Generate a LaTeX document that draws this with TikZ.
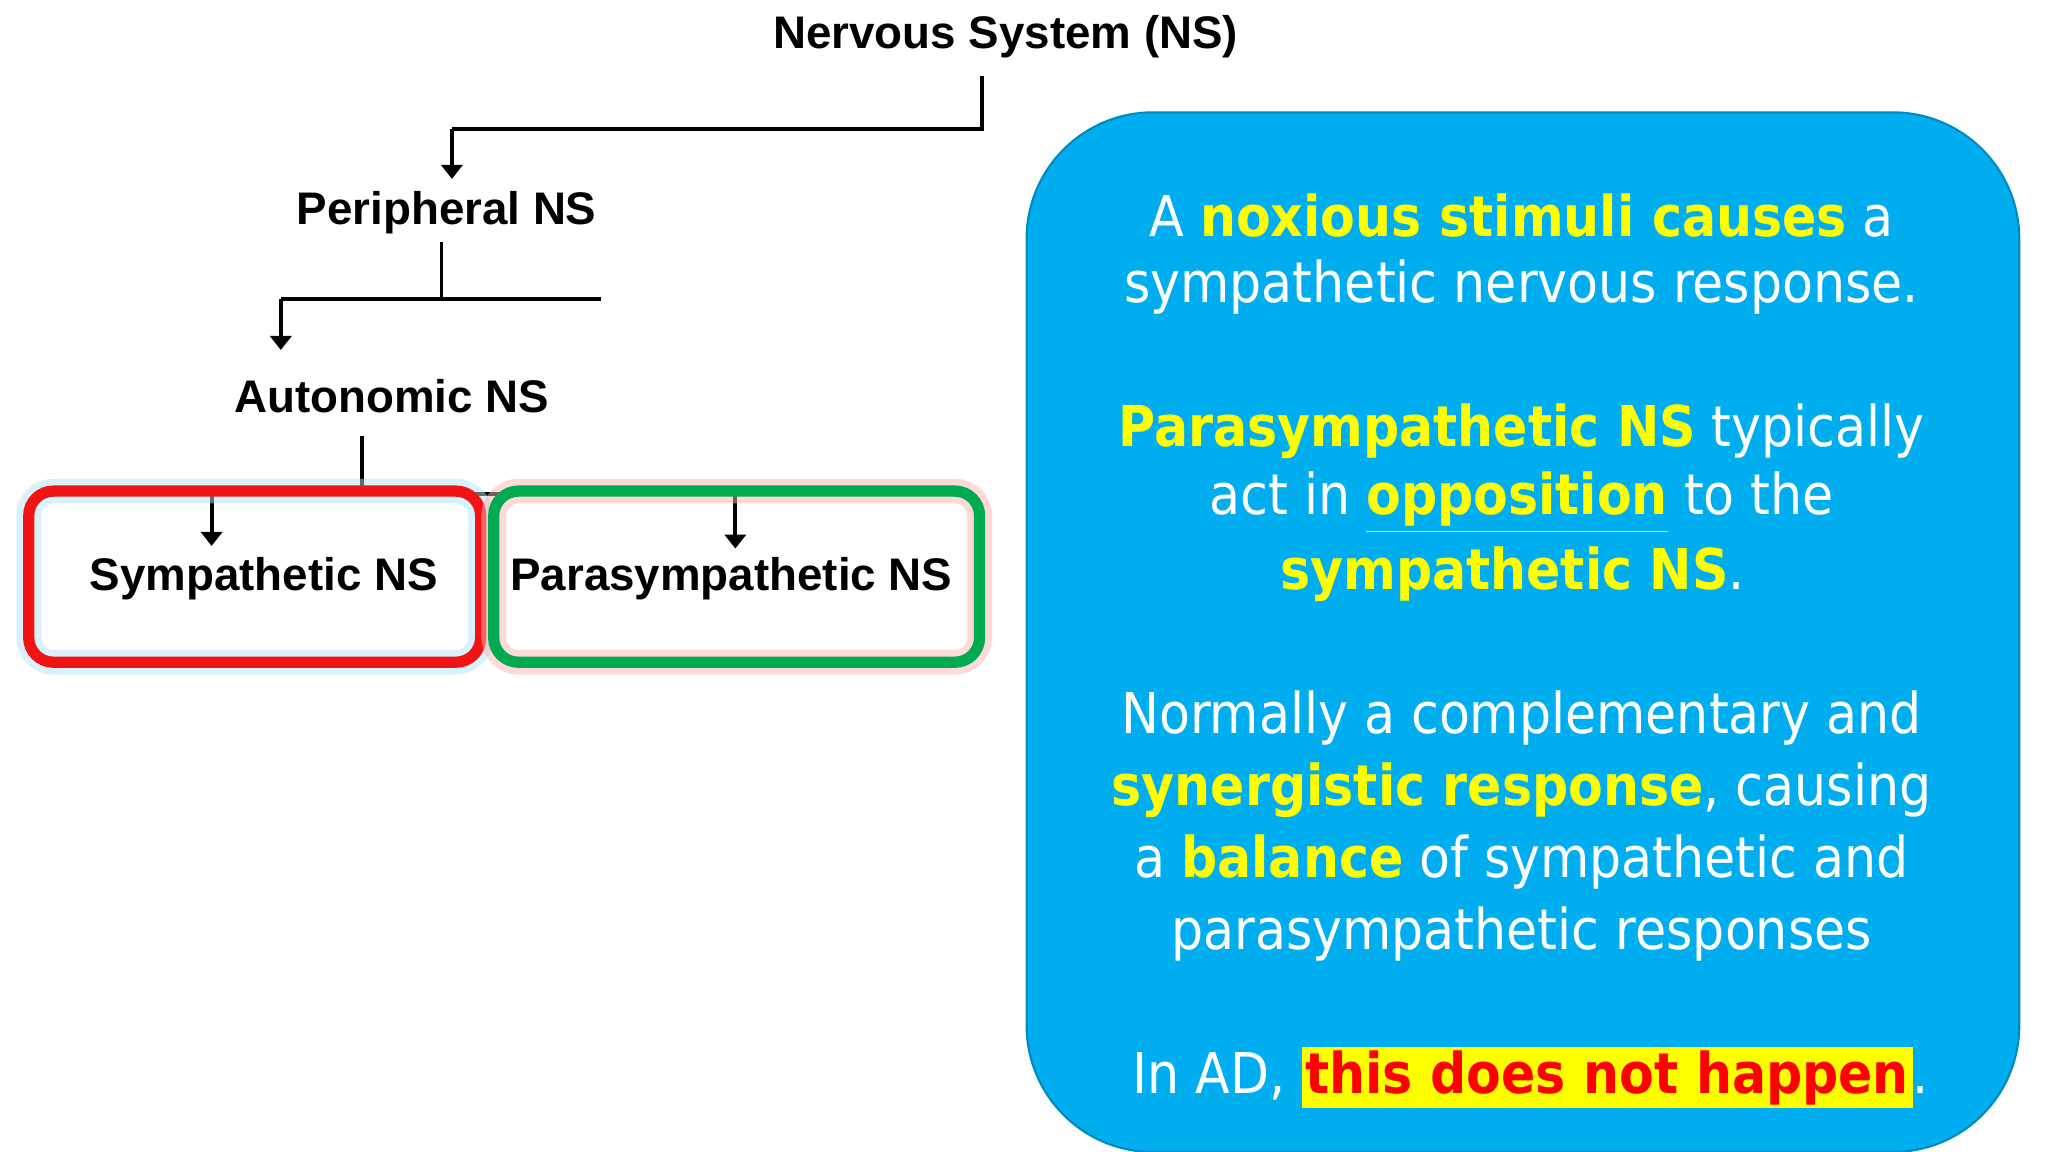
\documentclass[tikz,border=0pt]{standalone}
\usepackage{fontspec}
\setmainfont{DejaVu Sans Condensed}
\newfontfamily\treefont{Liberation Sans}
\usetikzlibrary{arrows.meta}
\definecolor{panel}{RGB}{0,174,239}
\definecolor{hl}{RGB}{255,255,0}
\definecolor{boxred}{RGB}{240,20,20}
\definecolor{boxgreen}{RGB}{0,170,80}
\tikzset{
  tree/.style={font=\treefont\bfseries\fontsize{13}{15}\selectfont, inner sep=0pt},
  conn/.style={line width=1.1pt},
  arr/.style={line width=1.1pt,-{Triangle[width=6pt,length=4pt]}},
  ptxt/.style={text=white, font=\fontsize{16}{19}\selectfont, inner sep=0pt},
}
\newcommand{\yb}[1]{\textcolor{hl}{\bfseries #1}}
\begin{document}
\begin{tikzpicture}[x=0.01306cm,y=-0.01306cm]
\useasboundingbox (0,0) rectangle (1568,882);
\fill[white] (0,0) rectangle (1568,882);
% tree
\node[tree] (ns) at (770,28) {Nervous System (NS)};
\node[tree] (pns) at (342,163) {Peripheral NS};
\node[tree] (ans) at (300,303) {Autonomic NS};
\coordinate (c1) at (752,58); \coordinate (c2) at (752,99); \coordinate (c3) at (346,99); \coordinate (c4) at (346,137);
\draw[conn] (c1) -- (c2) -- (c3);
\draw[arr] (c3) -- (c4);
\coordinate (d1) at (338,185); \coordinate (d2) at (338,229); \coordinate (d3) at (215,229); \coordinate (d4) at (460,229); \coordinate (d5) at (215,268);
\draw[conn] (d1) -- (d2); \draw[conn] (d3) -- (d4);
\draw[arr] (d3) -- (d5);
\coordinate (e1) at (277,334); \coordinate (e2) at (277,378); \coordinate (e3) at (162,378); \coordinate (e4) at (563,378);
\coordinate (e5) at (162,418); \coordinate (e6) at (563,420);
\draw[conn] (e1) -- (e2); \draw[conn] (e3) -- (e4);
\draw[arr] (e3) -- (e5); \draw[arr] (e4) -- (e6);
% boxes with glow
\draw[cyan!30,line width=7pt,opacity=0.5,rounded corners=7pt] (22,376) rectangle (368,507);
\draw[boxred,line width=3.2pt,rounded corners=7pt] (22,376) rectangle (368,507);
\draw[red!30,line width=7pt,opacity=0.5,rounded corners=7pt] (378,376) rectangle (750,507);
\draw[boxgreen,line width=3.2pt,rounded corners=7pt] (378,376) rectangle (750,507);
\node[tree] (sym) at (202,443) {Sympathetic NS};
\node[tree] (para) at (560,443) {Parasympathetic NS};
% panel
\fill[panel,draw=panel!80!black,line width=0.6pt,rounded corners=36pt] (786,86) rectangle (1546,882);
\node[ptxt] (t1) at (1165,165) {A \yb{noxious stimuli causes} a};
\node[ptxt] (t2) at (1165,220) {sympathetic nervous response.};
\node[ptxt] (t3) at (1165,330) {\yb{Parasympathetic NS} typically};
\node[ptxt] (t4) at (1165,385) {act in \yb{\underline{opposition}} to the};
\node[ptxt] (t5) at (1158,440) {\yb{sympathetic NS}.};
\node[ptxt] (t6) at (1165,550) {Normally a complementary and};
\node[ptxt] (t7) at (1165,605) {\yb{synergistic response}, causing};
\node[ptxt] (t8) at (1165,660) {a \yb{balance} of sympathetic and};
\node[ptxt] (t9) at (1165,715) {parasympathetic responses};
\node[ptxt] (t10) at (1172,825) {In AD, {\setlength{\fboxsep}{1pt}\colorbox{hl}{\textcolor{red}{\bfseries this does not happen}}}.};
\end{tikzpicture}
\end{document}
